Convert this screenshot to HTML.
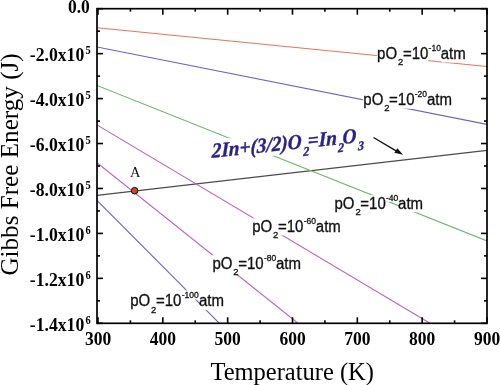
<!DOCTYPE html><html><head><meta charset="utf-8"><title>Gibbs Free Energy vs Temperature</title><style>html,body{margin:0;padding:0;background:#fff;width:500px;height:385px;overflow:hidden}svg{display:block}</style></head><body><svg width="500" height="385" viewBox="0 0 500 385"><defs><clipPath id="pc"><rect x="97" y="8.7" width="390" height="314.6"/></clipPath></defs><rect width="500" height="385" fill="#fff"/><g clip-path="url(#pc)"><line x1="97.00" y1="195.32" x2="487.00" y2="150.40" stroke="#4a4a4a" stroke-width="1.3" /><line x1="97.00" y1="27.70" x2="487.00" y2="66.50" stroke="#e0765c" stroke-width="1.1" /><line x1="97.00" y1="47.00" x2="487.00" y2="124.40" stroke="#6c66b8" stroke-width="1.1" /><line x1="97.00" y1="85.40" x2="487.00" y2="240.90" stroke="#74b474" stroke-width="1.1" /><line x1="97.00" y1="124.90" x2="430.00" y2="323.30" stroke="#b868bc" stroke-width="1.1" /><line x1="97.00" y1="162.70" x2="298.00" y2="323.30" stroke="#b868bc" stroke-width="1.1" /><line x1="97.00" y1="200.50" x2="219.40" y2="323.30" stroke="#6c66b8" stroke-width="1.1" /></g>
<g transform="translate(378.1,59.0) scale(1,1.04)"><rect x="-1.2" y="-13" width="51.3" height="16.3" fill="#fff"/><rect x="19.3" y="-1" width="5.4" height="6.4" fill="#fff"/><rect x="49.9" y="-15.3" width="12.8" height="8.6" fill="#fff"/><rect x="63.6" y="-13" width="25.5" height="16.3" fill="#fff"/><text font-family="Liberation Sans, Arial, sans-serif" font-size="15" fill="#111" stroke="#111" stroke-width="0.3"><tspan x="-1" y="0">pO</tspan><tspan x="19.9" y="5.9" font-size="9.5">2</tspan><tspan x="24.8" y="0">=10</tspan><tspan x="50.5" y="-7.6" font-size="8.5">-10</tspan><tspan x="62.6" y="0">atm</tspan></text></g>
<g transform="translate(364.3,105.2) scale(1,1.04)"><rect x="-1.2" y="-13" width="51.3" height="16.3" fill="#fff"/><rect x="19.3" y="-1" width="5.4" height="6.4" fill="#fff"/><rect x="49.9" y="-15.3" width="12.8" height="8.6" fill="#fff"/><rect x="63.6" y="-13" width="25.5" height="16.3" fill="#fff"/><text font-family="Liberation Sans, Arial, sans-serif" font-size="15" fill="#111" stroke="#111" stroke-width="0.3"><tspan x="-1" y="0">pO</tspan><tspan x="19.9" y="5.9" font-size="9.5">2</tspan><tspan x="24.8" y="0">=10</tspan><tspan x="50.5" y="-7.6" font-size="8.5">-20</tspan><tspan x="62.6" y="0">atm</tspan></text></g>
<g transform="translate(335.5,208.8) scale(1,1.04)"><rect x="-1.2" y="-13" width="51.3" height="16.3" fill="#fff"/><rect x="19.3" y="-1" width="5.4" height="6.4" fill="#fff"/><rect x="49.9" y="-15.3" width="12.8" height="8.6" fill="#fff"/><rect x="63.6" y="-13" width="25.5" height="16.3" fill="#fff"/><text font-family="Liberation Sans, Arial, sans-serif" font-size="15" fill="#111" stroke="#111" stroke-width="0.3"><tspan x="-1" y="0">pO</tspan><tspan x="19.9" y="5.9" font-size="9.5">2</tspan><tspan x="24.8" y="0">=10</tspan><tspan x="50.5" y="-7.6" font-size="8.5">-40</tspan><tspan x="62.6" y="0">atm</tspan></text></g>
<g transform="translate(253.2,231.9) scale(1,1.04)"><rect x="-1.2" y="-13" width="51.3" height="16.3" fill="#fff"/><rect x="19.3" y="-1" width="5.4" height="6.4" fill="#fff"/><rect x="49.9" y="-15.3" width="12.8" height="8.6" fill="#fff"/><rect x="63.6" y="-13" width="25.5" height="16.3" fill="#fff"/><text font-family="Liberation Sans, Arial, sans-serif" font-size="15" fill="#111" stroke="#111" stroke-width="0.3"><tspan x="-1" y="0">pO</tspan><tspan x="19.9" y="5.9" font-size="9.5">2</tspan><tspan x="24.8" y="0">=10</tspan><tspan x="50.5" y="-7.6" font-size="8.5">-60</tspan><tspan x="62.6" y="0">atm</tspan></text></g>
<g transform="translate(213.4,268.6) scale(1,1.04)"><rect x="-1.2" y="-13" width="51.3" height="16.3" fill="#fff"/><rect x="19.3" y="-1" width="5.4" height="6.4" fill="#fff"/><rect x="49.9" y="-15.3" width="12.8" height="8.6" fill="#fff"/><rect x="63.6" y="-13" width="25.5" height="16.3" fill="#fff"/><text font-family="Liberation Sans, Arial, sans-serif" font-size="15" fill="#111" stroke="#111" stroke-width="0.3"><tspan x="-1" y="0">pO</tspan><tspan x="19.9" y="5.9" font-size="9.5">2</tspan><tspan x="24.8" y="0">=10</tspan><tspan x="50.5" y="-7.6" font-size="8.5">-80</tspan><tspan x="62.6" y="0">atm</tspan></text></g>
<g transform="translate(131.2,306.4) scale(1,1.04)"><rect x="-1.2" y="-13" width="51.3" height="16.3" fill="#fff"/><rect x="19.3" y="-1" width="5.4" height="6.4" fill="#fff"/><rect x="49.9" y="-15.3" width="18.0" height="8.6" fill="#fff"/><rect x="68.8" y="-13" width="25.5" height="16.3" fill="#fff"/><text font-family="Liberation Sans, Arial, sans-serif" font-size="15" fill="#111" stroke="#111" stroke-width="0.3"><tspan x="-1" y="0">pO</tspan><tspan x="19.9" y="5.9" font-size="9.5">2</tspan><tspan x="24.8" y="0">=10</tspan><tspan x="50.5" y="-7.6" font-size="8.5">-100</tspan><tspan x="67.8" y="0">atm</tspan></text></g>
<g transform="translate(211.5,157.7) rotate(-6.0)"><rect x="-1" y="-17.5" width="154" height="22" fill="#fff"/><g transform="scale(1,1.08) skewX(-7)"><text font-family="Liberation Serif, Times New Roman, serif" font-weight="bold" font-style="italic" font-size="19.3" fill="#29228a" stroke="#29228a" stroke-width="0.35"><tspan x="0.3" y="0">2In+(3/2)O</tspan><tspan x="92.3" y="7.3" font-size="12">2</tspan><tspan x="96.8" y="0">=In</tspan><tspan x="127.3" y="7.3" font-size="12">2</tspan><tspan x="131.8" y="0">O</tspan><tspan x="147.3" y="7.3" font-size="12">3</tspan></text></g></g>
<line x1="373.50" y1="137.50" x2="396.50" y2="151.20" stroke="#111" stroke-width="1.4" />
<polygon points="403,154.8 394.3,152.8 397.4,148.2" fill="#111"/>
<circle cx="134.6" cy="190.7" r="3.3" fill="#d8401a" stroke="#111" stroke-width="1"/>
<text x="130.1" y="176.7" font-family="Liberation Serif, Times New Roman, serif" font-size="14.5" fill="#111">A</text>
<line x1="98.00" y1="323.30" x2="98.00" y2="317.30" stroke="#000" stroke-width="1.6" /><line x1="98.00" y1="8.70" x2="98.00" y2="14.70" stroke="#000" stroke-width="1.6" /><line x1="130.42" y1="323.30" x2="130.42" y2="320.30" stroke="#000" stroke-width="1.6" /><line x1="130.42" y1="8.70" x2="130.42" y2="11.70" stroke="#000" stroke-width="1.6" /><line x1="162.83" y1="323.30" x2="162.83" y2="317.30" stroke="#000" stroke-width="1.6" /><line x1="162.83" y1="8.70" x2="162.83" y2="14.70" stroke="#000" stroke-width="1.6" /><line x1="195.25" y1="323.30" x2="195.25" y2="320.30" stroke="#000" stroke-width="1.6" /><line x1="195.25" y1="8.70" x2="195.25" y2="11.70" stroke="#000" stroke-width="1.6" /><line x1="227.67" y1="323.30" x2="227.67" y2="317.30" stroke="#000" stroke-width="1.6" /><line x1="227.67" y1="8.70" x2="227.67" y2="14.70" stroke="#000" stroke-width="1.6" /><line x1="260.08" y1="323.30" x2="260.08" y2="320.30" stroke="#000" stroke-width="1.6" /><line x1="260.08" y1="8.70" x2="260.08" y2="11.70" stroke="#000" stroke-width="1.6" /><line x1="292.50" y1="323.30" x2="292.50" y2="317.30" stroke="#000" stroke-width="1.6" /><line x1="292.50" y1="8.70" x2="292.50" y2="14.70" stroke="#000" stroke-width="1.6" /><line x1="324.92" y1="323.30" x2="324.92" y2="320.30" stroke="#000" stroke-width="1.6" /><line x1="324.92" y1="8.70" x2="324.92" y2="11.70" stroke="#000" stroke-width="1.6" /><line x1="357.33" y1="323.30" x2="357.33" y2="317.30" stroke="#000" stroke-width="1.6" /><line x1="357.33" y1="8.70" x2="357.33" y2="14.70" stroke="#000" stroke-width="1.6" /><line x1="389.75" y1="323.30" x2="389.75" y2="320.30" stroke="#000" stroke-width="1.6" /><line x1="389.75" y1="8.70" x2="389.75" y2="11.70" stroke="#000" stroke-width="1.6" /><line x1="422.17" y1="323.30" x2="422.17" y2="317.30" stroke="#000" stroke-width="1.6" /><line x1="422.17" y1="8.70" x2="422.17" y2="14.70" stroke="#000" stroke-width="1.6" /><line x1="454.58" y1="323.30" x2="454.58" y2="320.30" stroke="#000" stroke-width="1.6" /><line x1="454.58" y1="8.70" x2="454.58" y2="11.70" stroke="#000" stroke-width="1.6" /><line x1="487.00" y1="323.30" x2="487.00" y2="317.30" stroke="#000" stroke-width="1.6" /><line x1="487.00" y1="8.70" x2="487.00" y2="14.70" stroke="#000" stroke-width="1.6" /><line x1="97.00" y1="8.70" x2="103.00" y2="8.70" stroke="#000" stroke-width="1.6" /><line x1="487.00" y1="8.70" x2="481.00" y2="8.70" stroke="#000" stroke-width="1.6" /><line x1="97.00" y1="31.17" x2="100.00" y2="31.17" stroke="#000" stroke-width="1.6" /><line x1="487.00" y1="31.17" x2="484.00" y2="31.17" stroke="#000" stroke-width="1.6" /><line x1="97.00" y1="53.64" x2="103.00" y2="53.64" stroke="#000" stroke-width="1.6" /><line x1="487.00" y1="53.64" x2="481.00" y2="53.64" stroke="#000" stroke-width="1.6" /><line x1="97.00" y1="76.11" x2="100.00" y2="76.11" stroke="#000" stroke-width="1.6" /><line x1="487.00" y1="76.11" x2="484.00" y2="76.11" stroke="#000" stroke-width="1.6" /><line x1="97.00" y1="98.59" x2="103.00" y2="98.59" stroke="#000" stroke-width="1.6" /><line x1="487.00" y1="98.59" x2="481.00" y2="98.59" stroke="#000" stroke-width="1.6" /><line x1="97.00" y1="121.06" x2="100.00" y2="121.06" stroke="#000" stroke-width="1.6" /><line x1="487.00" y1="121.06" x2="484.00" y2="121.06" stroke="#000" stroke-width="1.6" /><line x1="97.00" y1="143.53" x2="103.00" y2="143.53" stroke="#000" stroke-width="1.6" /><line x1="487.00" y1="143.53" x2="481.00" y2="143.53" stroke="#000" stroke-width="1.6" /><line x1="97.00" y1="166.00" x2="100.00" y2="166.00" stroke="#000" stroke-width="1.6" /><line x1="487.00" y1="166.00" x2="484.00" y2="166.00" stroke="#000" stroke-width="1.6" /><line x1="97.00" y1="188.47" x2="103.00" y2="188.47" stroke="#000" stroke-width="1.6" /><line x1="487.00" y1="188.47" x2="481.00" y2="188.47" stroke="#000" stroke-width="1.6" /><line x1="97.00" y1="210.94" x2="100.00" y2="210.94" stroke="#000" stroke-width="1.6" /><line x1="487.00" y1="210.94" x2="484.00" y2="210.94" stroke="#000" stroke-width="1.6" /><line x1="97.00" y1="233.41" x2="103.00" y2="233.41" stroke="#000" stroke-width="1.6" /><line x1="487.00" y1="233.41" x2="481.00" y2="233.41" stroke="#000" stroke-width="1.6" /><line x1="97.00" y1="255.89" x2="100.00" y2="255.89" stroke="#000" stroke-width="1.6" /><line x1="487.00" y1="255.89" x2="484.00" y2="255.89" stroke="#000" stroke-width="1.6" /><line x1="97.00" y1="278.36" x2="103.00" y2="278.36" stroke="#000" stroke-width="1.6" /><line x1="487.00" y1="278.36" x2="481.00" y2="278.36" stroke="#000" stroke-width="1.6" /><line x1="97.00" y1="300.83" x2="100.00" y2="300.83" stroke="#000" stroke-width="1.6" /><line x1="487.00" y1="300.83" x2="484.00" y2="300.83" stroke="#000" stroke-width="1.6" /><line x1="97.00" y1="323.30" x2="103.00" y2="323.30" stroke="#000" stroke-width="1.6" /><line x1="487.00" y1="323.30" x2="481.00" y2="323.30" stroke="#000" stroke-width="1.6" />
<rect x="97" y="8.7" width="390.0" height="314.6" fill="none" stroke="#000" stroke-width="1.7"/>
<text transform="translate(98.0,344.6) scale(1,1.09)" text-anchor="middle" font-family="Liberation Serif, Times New Roman, serif" font-weight="bold" font-size="17.5" fill="#000">300</text>
<text transform="translate(162.8,344.6) scale(1,1.09)" text-anchor="middle" font-family="Liberation Serif, Times New Roman, serif" font-weight="bold" font-size="17.5" fill="#000">400</text>
<text transform="translate(227.7,344.6) scale(1,1.09)" text-anchor="middle" font-family="Liberation Serif, Times New Roman, serif" font-weight="bold" font-size="17.5" fill="#000">500</text>
<text transform="translate(292.5,344.6) scale(1,1.09)" text-anchor="middle" font-family="Liberation Serif, Times New Roman, serif" font-weight="bold" font-size="17.5" fill="#000">600</text>
<text transform="translate(357.3,344.6) scale(1,1.09)" text-anchor="middle" font-family="Liberation Serif, Times New Roman, serif" font-weight="bold" font-size="17.5" fill="#000">700</text>
<text transform="translate(422.2,344.6) scale(1,1.09)" text-anchor="middle" font-family="Liberation Serif, Times New Roman, serif" font-weight="bold" font-size="17.5" fill="#000">800</text>
<text transform="translate(487.0,344.6) scale(1,1.09)" text-anchor="middle" font-family="Liberation Serif, Times New Roman, serif" font-weight="bold" font-size="17.5" fill="#000">900</text>
<text transform="translate(89.8,12.5) scale(1,1.08)" text-anchor="end" font-family="Liberation Serif, Times New Roman, serif" font-weight="bold" font-size="17.5" fill="#000">0.0</text>
<text transform="translate(84.3,61.1) scale(1,1.04)" text-anchor="end" font-family="Liberation Serif, Times New Roman, serif" font-weight="bold" font-size="17.7" fill="#000">-2.0x10</text>
<text transform="translate(85.4,54.2) scale(1,1.12)" font-family="Liberation Serif, Times New Roman, serif" font-weight="bold" font-size="10.5" fill="#000">5</text>
<text transform="translate(84.3,106.1) scale(1,1.04)" text-anchor="end" font-family="Liberation Serif, Times New Roman, serif" font-weight="bold" font-size="17.7" fill="#000">-4.0x10</text>
<text transform="translate(85.4,99.2) scale(1,1.12)" font-family="Liberation Serif, Times New Roman, serif" font-weight="bold" font-size="10.5" fill="#000">5</text>
<text transform="translate(84.3,151.0) scale(1,1.04)" text-anchor="end" font-family="Liberation Serif, Times New Roman, serif" font-weight="bold" font-size="17.7" fill="#000">-6.0x10</text>
<text transform="translate(85.4,144.1) scale(1,1.12)" font-family="Liberation Serif, Times New Roman, serif" font-weight="bold" font-size="10.5" fill="#000">5</text>
<text transform="translate(84.3,196.0) scale(1,1.04)" text-anchor="end" font-family="Liberation Serif, Times New Roman, serif" font-weight="bold" font-size="17.7" fill="#000">-8.0x10</text>
<text transform="translate(85.4,189.1) scale(1,1.12)" font-family="Liberation Serif, Times New Roman, serif" font-weight="bold" font-size="10.5" fill="#000">5</text>
<text transform="translate(84.3,240.9) scale(1,1.04)" text-anchor="end" font-family="Liberation Serif, Times New Roman, serif" font-weight="bold" font-size="17.7" fill="#000">-1.0x10</text>
<text transform="translate(85.4,234.0) scale(1,1.12)" font-family="Liberation Serif, Times New Roman, serif" font-weight="bold" font-size="10.5" fill="#000">6</text>
<text transform="translate(84.3,285.9) scale(1,1.04)" text-anchor="end" font-family="Liberation Serif, Times New Roman, serif" font-weight="bold" font-size="17.7" fill="#000">-1.2x10</text>
<text transform="translate(85.4,279.0) scale(1,1.12)" font-family="Liberation Serif, Times New Roman, serif" font-weight="bold" font-size="10.5" fill="#000">6</text>
<text transform="translate(84.3,330.8) scale(1,1.04)" text-anchor="end" font-family="Liberation Serif, Times New Roman, serif" font-weight="bold" font-size="17.7" fill="#000">-1.4x10</text>
<text transform="translate(85.4,323.9) scale(1,1.12)" font-family="Liberation Serif, Times New Roman, serif" font-weight="bold" font-size="10.5" fill="#000">6</text>
<text x="210.4" y="380.2" font-family="Liberation Serif, Times New Roman, serif" font-size="24.5" fill="#000">Temperature (K)</text>
<text transform="translate(17.7,275.6) rotate(-90)" font-family="Liberation Serif, Times New Roman, serif" font-size="25.15" fill="#000">Gibbs Free Energy (J)</text></svg></body></html>
